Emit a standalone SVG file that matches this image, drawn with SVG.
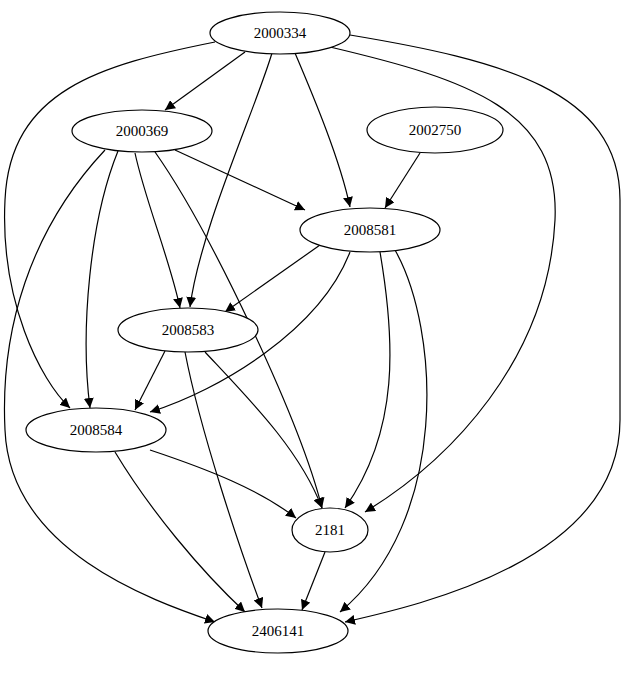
<svg xmlns="http://www.w3.org/2000/svg" width="625" height="678" viewBox="0 0 625 678">
<style>
.n ellipse{fill:#fff;stroke:#000;stroke-width:1.2}
.n text{font-family:"Liberation Serif",serif;font-size:15px;text-anchor:middle;dominant-baseline:central}
#edges path{fill:none;stroke:#000;stroke-width:1.2;marker-end:url(#a)}
</style>
<defs><marker id="a" viewBox="0 0 10 10" refX="10" refY="5" markerWidth="10" markerHeight="10" markerUnits="userSpaceOnUse" orient="auto"><path d="M0,0L10,5L0,10z" fill="#000"/></marker></defs>
<rect width="625" height="678" fill="#fff"/>
<g id="edges">
<path d="M245,52 L165,110"/>
<path d="M272,53 C255,110 200,230 190,307"/>
<path d="M295,53 C315,100 340,160 350,207"/>
<path d="M215,42 C100,65 10,90 5,200 C0,300 40,380 70,408"/>
<path d="M330,47 C470,80 560,110 555,220 C548,360 450,460 365,512"/>
<path d="M350,35 C500,60 620,90 620,200 L620,420 C620,560 420,605 345,622"/>
<path d="M175,150 L305,210"/>
<path d="M135,153 C145,200 170,260 180,308"/>
<path d="M118,151 C90,220 80,330 90,408"/>
<path d="M155,152 C210,230 300,420 322,508"/>
<path d="M105,150 C30,230 0,330 5,430 C10,550 150,600 215,622"/>
<path d="M420,153 L385,208"/>
<path d="M320,245 L225,312"/>
<path d="M350,252 C320,330 220,390 150,412"/>
<path d="M380,252 C395,340 400,430 345,508"/>
<path d="M395,250 C440,330 450,520 340,612"/>
<path d="M165,351 L135,410"/>
<path d="M205,352 C250,400 300,450 322,508"/>
<path d="M185,352 C200,430 240,550 262,608"/>
<path d="M150,450 C210,470 260,490 296,518"/>
<path d="M115,452 C150,510 200,570 245,612"/>
<path d="M325,552 L302,610"/>
</g>
<g id="n2000334" class="n"><ellipse cx="280" cy="33" rx="70" ry="21"/><text x="280" y="33">2000334</text></g>
<g id="n2000369" class="n"><ellipse cx="142" cy="131" rx="70" ry="21"/><text x="142" y="131">2000369</text></g>
<g id="n2002750" class="n"><ellipse cx="435" cy="130" rx="68" ry="23"/><text x="435" y="130">2002750</text></g>
<g id="n2008581" class="n"><ellipse cx="370" cy="230" rx="70" ry="22"/><text x="370" y="230">2008581</text></g>
<g id="n2008583" class="n"><ellipse cx="188" cy="330" rx="70" ry="22"/><text x="188" y="330">2008583</text></g>
<g id="n2008584" class="n"><ellipse cx="96" cy="430" rx="70" ry="22"/><text x="96" y="430">2008584</text></g>
<g id="n2181" class="n"><ellipse cx="330" cy="530" rx="38" ry="22"/><text x="330" y="530">2181</text></g>
<g id="n2406141" class="n"><ellipse cx="278" cy="631" rx="70" ry="22"/><text x="278" y="631">2406141</text></g>
</svg>
